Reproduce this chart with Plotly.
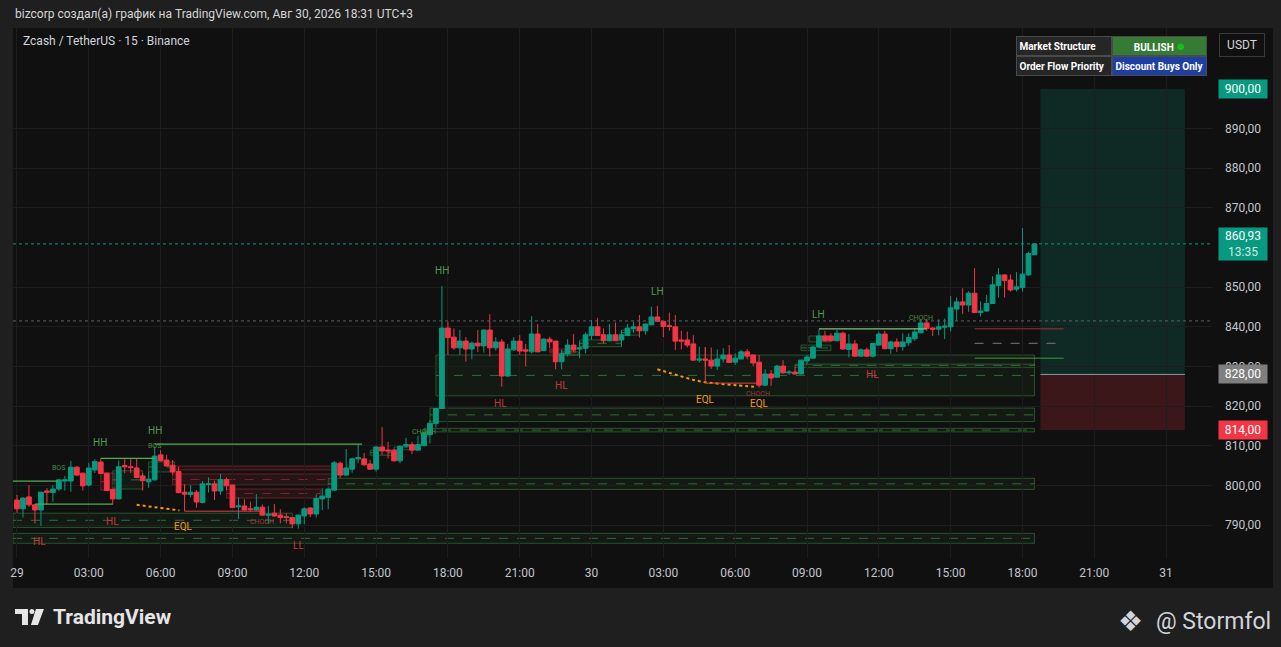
import pandas as pd
import plotly.graph_objects as go

# ---------------- data ----------------
times = pd.date_range("2026-08-29 00:00", periods=171, freq="15min")

opens = [796.3, 794.1, 797.1, 795.1, 793.8, 798.6, 798.2, 799.1, 801.1, 801.1,
         804.6, 803.1, 800.1, 803.9, 805.9, 803.1, 799.0, 796.6, 805.0, 804.7,
         804.4, 802.4, 800.9, 801.4, 807.7, 806.4, 805.1, 803.5, 798.3, 797.7,
         798.3, 795.7, 800.2, 800.4, 798.6, 801.5, 800.1, 794.6, 794.8, 794.1,
         793.8, 794.5, 792.5, 793.0, 792.5, 792.1, 791.9, 790.3, 792.3, 794.3,
         792.8, 796.6, 797.0, 798.8, 805.6, 802.6, 804.1, 806.7, 806.7, 805.4,
         804.1, 809.7, 808.9, 808.9, 806.2, 809.9, 810.3, 808.9, 810.0, 812.8,
         815.6, 819.4, 839.7, 837.4, 834.7, 836.4, 834.4, 835.9, 835.2, 839.2,
         834.7, 836.2, 827.6, 834.2, 836.4, 834.2, 833.7, 838.2, 834.0, 836.9,
         836.4, 831.2, 833.2, 835.4, 834.4, 834.6, 837.8, 840.0, 838.0, 836.5,
         838.0, 836.7, 837.8, 839.6, 840.0, 839.0, 840.5, 842.5, 841.4, 840.3,
         840.0, 836.7, 836.7, 835.7, 831.6, 831.9, 831.6, 830.1, 831.9, 832.9,
         831.1, 831.9, 833.7, 832.9, 831.1, 825.3, 828.1, 827.3, 830.1, 828.4,
         828.6, 828.1, 831.4, 832.1, 834.9, 837.7, 837.7, 836.5, 838.4, 834.3,
         835.7, 832.6, 834.2, 832.6, 835.4, 838.2, 834.5, 836.2, 835.0, 836.0,
         837.0, 838.5, 841.0, 839.7, 839.4, 839.9, 840.0, 844.5, 846.3, 845.5,
         848.5, 843.6, 844.0, 845.9, 850.4, 853.1, 851.8, 849.5, 849.9, 853.1,
         858.2]
highs = [797.6, 797.0, 800.1, 795.3, 798.4, 799.3, 800.1, 801.5, 802.4, 806.2,
         804.9, 803.2, 805.7, 806.6, 806.8, 803.2, 799.1, 806.2, 806.6, 806.6,
         806.7, 803.1, 803.5, 809.8, 808.9, 807.7, 806.4, 804.7, 800.1, 800.1,
         798.8, 801.1, 802.0, 801.2, 802.9, 802.0, 800.2, 797.0, 796.5, 795.9,
         797.8, 795.2, 794.8, 795.3, 794.0, 793.0, 792.0, 792.7, 794.5, 794.5,
         797.8, 799.3, 799.2, 806.2, 806.0, 809.2, 807.0, 810.4, 808.2, 806.4,
         809.9, 814.7, 811.0, 809.2, 810.0, 812.0, 811.0, 812.5, 813.6, 816.5,
         819.5, 850.3, 841.3, 839.6, 839.2, 837.4, 836.3, 839.2, 839.4, 843.2,
         837.4, 836.9, 835.7, 837.4, 837.9, 835.7, 842.7, 840.7, 837.1, 837.5,
         836.5, 834.2, 836.9, 838.2, 836.3, 838.6, 841.7, 842.3, 839.6, 840.7,
         841.1, 839.2, 840.7, 841.3, 843.0, 840.9, 845.1, 845.3, 841.5, 843.6,
         843.0, 839.0, 838.8, 837.9, 835.0, 834.8, 834.8, 834.3, 834.6, 835.4,
         833.3, 834.2, 834.4, 833.0, 832.9, 829.3, 829.1, 830.4, 831.6, 829.1,
         830.1, 831.7, 832.9, 835.2, 839.4, 839.0, 838.4, 839.2, 838.8, 838.2,
         836.7, 834.6, 834.8, 836.0, 838.8, 839.0, 836.5, 837.1, 838.4, 838.4,
         839.6, 841.9, 841.9, 839.9, 841.9, 842.1, 847.8, 847.4, 849.7, 849.0,
         854.8, 846.4, 848.0, 852.8, 854.8, 853.2, 853.2, 853.8, 864.9, 858.9,
         861.1]
lows = [793.1, 791.9, 794.6, 790.4, 789.8, 795.3, 795.9, 798.6, 798.7, 798.4,
        802.5, 798.7, 799.7, 803.1, 802.9, 798.6, 795.2, 796.5, 803.1, 803.1,
        801.8, 798.7, 799.4, 801.3, 806.0, 804.8, 802.6, 798.0, 797.2, 797.0,
        794.4, 795.5, 798.2, 796.3, 797.6, 798.8, 794.3, 791.5, 793.6, 793.4,
        793.7, 792.4, 790.4, 792.1, 790.4, 790.4, 789.2, 789.1, 790.2, 792.0,
        791.9, 793.8, 794.0, 798.7, 801.8, 802.5, 803.2, 805.6, 805.0, 803.9,
        803.5, 807.7, 806.8, 806.0, 805.6, 809.5, 807.9, 808.8, 809.9, 810.6,
        814.6, 819.3, 832.9, 834.2, 832.9, 831.2, 831.8, 833.7, 833.5, 832.5,
        834.0, 824.9, 827.3, 833.9, 832.9, 830.0, 833.3, 833.6, 833.9, 834.6,
        829.3, 829.3, 832.5, 833.7, 832.1, 833.3, 836.7, 837.7, 835.8, 836.3,
        836.4, 835.0, 837.7, 838.5, 837.3, 838.0, 840.4, 841.2, 837.4, 839.0,
        834.2, 834.3, 834.8, 831.5, 831.0, 830.0, 829.4, 829.1, 831.0, 830.9,
        830.4, 831.8, 831.8, 830.1, 824.7, 825.2, 825.1, 827.2, 828.2, 827.9,
        828.0, 828.0, 830.4, 832.0, 834.7, 836.3, 836.3, 836.3, 834.3, 832.3,
        832.5, 832.5, 832.5, 832.3, 835.2, 834.3, 833.2, 833.7, 834.0, 835.2,
        836.5, 838.4, 839.0, 837.7, 837.9, 836.9, 838.8, 841.6, 843.2, 843.8,
        843.5, 842.6, 843.8, 845.8, 847.4, 847.4, 848.9, 848.9, 848.9, 852.9,
        858.1]
closes = [794.1, 796.8, 795.1, 793.8, 798.3, 798.3, 799.1, 801.4, 801.4, 804.6,
          802.6, 799.9, 804.4, 806.0, 803.0, 798.7, 796.6, 804.7, 804.7, 804.5,
          802.0, 801.2, 801.6, 807.4, 806.2, 804.9, 803.4, 798.2, 797.8, 798.3,
          795.8, 800.4, 800.4, 798.6, 801.5, 799.9, 794.4, 794.8, 793.8, 793.9,
          794.5, 792.5, 792.7, 792.3, 791.9, 791.9, 790.3, 792.5, 794.1, 792.8,
          796.7, 797.3, 799.1, 805.7, 802.6, 804.4, 806.7, 807.0, 805.2, 804.1,
          809.7, 808.7, 808.7, 806.2, 809.9, 810.3, 808.9, 810.3, 813.3, 815.7,
          819.4, 839.7, 837.3, 834.7, 836.4, 834.4, 835.9, 835.2, 839.2, 834.7,
          836.2, 827.6, 834.4, 836.4, 833.9, 833.9, 838.2, 833.7, 836.9, 836.2,
          831.2, 833.2, 835.4, 834.2, 834.7, 838.0, 840.0, 837.8, 836.5, 838.0,
          836.5, 838.0, 839.7, 840.0, 839.0, 840.7, 842.5, 841.4, 840.1, 840.1,
          836.4, 836.4, 835.4, 831.6, 831.9, 831.6, 830.1, 831.9, 832.9, 831.0,
          832.1, 833.7, 832.6, 830.9, 825.3, 828.1, 827.1, 830.1, 828.4, 828.6,
          828.1, 831.6, 832.4, 834.9, 837.7, 836.5, 836.5, 838.4, 834.4, 835.7,
          832.6, 834.2, 832.6, 835.8, 838.2, 834.5, 836.2, 835.0, 836.2, 837.3,
          838.7, 841.0, 839.6, 839.4, 840.0, 840.2, 844.8, 846.3, 845.5, 848.5,
          843.6, 844.0, 845.9, 850.6, 853.1, 851.7, 849.3, 850.1, 853.3, 858.5,
          860.93]

# 860 is covered by the last-price badge, so it is not listed
price_ticks = [790, 800, 810, 820, 830, 840, 850, 870, 880, 890]
time_ticks = pd.date_range("2026-08-29 00:00", "2026-08-31 00:00", freq="3h")
time_tick_labels = ["29", "03:00", "06:00", "09:00", "12:00", "15:00", "18:00", "21:00",
                    "30", "03:00", "06:00", "09:00", "12:00", "15:00", "18:00", "21:00", "31"]

# bullish order blocks: start, end, low, high, dashed mid
bull_zones = [
    ("2026-08-28 23:50", "2026-08-29 11:30", 789.4, 793.0, True),
    ("2026-08-28 23:50", "2026-08-30 18:30", 785.4, 787.9, True),
    ("2026-08-29 13:00", "2026-08-30 18:30", 799.0, 801.8, True),
    ("2026-08-29 17:30", "2026-08-30 18:30", 822.6, 832.9, True),
    ("2026-08-29 17:15", "2026-08-30 18:30", 816.1, 819.5, True),
    ("2026-08-29 17:00", "2026-08-30 18:30", 813.5, 814.4, True),
    ("2026-08-30 08:30", "2026-08-30 18:30", 829.8, 830.6, True),
    ("2026-08-29 04:00", "2026-08-29 05:15", 799.1, 803.7, True),
    ("2026-08-29 05:30", "2026-08-29 06:35", 803.4, 805.9, True),
    ("2026-08-29 14:45", "2026-08-29 15:40", 807.6, 808.9, True),
    ("2026-08-29 15:45", "2026-08-29 16:30", 809.0, 809.7, False),
    ("2026-08-29 22:45", "2026-08-29 23:27", 832.9, 833.7, True),
    ("2026-08-29 23:30", "2026-08-30 01:15", 835.0, 836.7, True),
    ("2026-08-30 01:15", "2026-08-30 02:00", 837.9, 839.2, True),
    ("2026-08-30 08:45", "2026-08-30 10:00", 834.0, 835.4, True),
    ("2026-08-30 09:05", "2026-08-30 10:00", 836.2, 837.7, False),
]
# bearish order blocks
bear_zones = [
    ("2026-08-29 06:30", "2026-08-29 13:10", 803.9, 804.9, False),
    ("2026-08-29 06:30", "2026-08-29 13:10", 800.1, 802.9, True),
    ("2026-08-29 08:45", "2026-08-29 12:40", 796.8, 799.1, True),
    ("2026-08-29 03:30", "2026-08-29 04:05", 798.8, 803.1, True),
    ("2026-08-29 22:15", "2026-08-29 23:20", 833.4, 834.4, True),
]
# structure lines: start, end, price
bull_lines = [
    ("2026-08-28 23:50", "2026-08-29 01:43", 801.1),
    ("2026-08-29 00:45", "2026-08-29 04:00", 795.3),
    ("2026-08-29 03:30", "2026-08-29 05:45", 806.8),
    ("2026-08-29 05:45", "2026-08-29 14:25", 810.4),
]
lh_line = ("2026-08-30 09:30", "2026-08-30 14:00", 839.5)
# CHoCH brackets: time, top price, bottom price, end time
choch_brackets = [
    ("2026-08-29 07:00", 800.3, 793.5, "2026-08-29 10:10"),
    ("2026-08-30 04:45", 834.9, 825.8, "2026-08-30 06:55"),
]
# equal-lows dotted lines
eql1_t = ["2026-08-29 05:00", "2026-08-29 06:47"]
eql1_p = [795.1, 793.7]
eql2_t = ["2026-08-30 02:45", "2026-08-30 03:45", "2026-08-30 04:30", "2026-08-30 05:15",
          "2026-08-30 06:02", "2026-08-30 06:47"]
eql2_p = [829.3, 827.5, 826.3, 825.7, 825.3, 824.9]
# premium / equilibrium / discount
pd_start, pd_end = "2026-08-30 16:00", "2026-08-30 19:43"
premium, equilibrium, discount = 839.5, 835.85, 832.1
prev_high = 841.5

# labels
label_text = ["HH", "HH", "HH", "LH", "LH", "HL", "HL", "HL", "HL", "HL", "LL",
              "BOS", "BOS", "CHOCH", "CHOCH", "CHOCH", "CHOCH", "EQL", "EQL", "EQL"]
label_time = ["2026-08-29 03:28", "2026-08-29 05:45", "2026-08-29 17:45", "2026-08-30 02:45",
              "2026-08-30 09:30", "2026-08-29 00:57", "2026-08-29 04:00", "2026-08-29 20:13",
              "2026-08-29 22:45", "2026-08-30 11:45", "2026-08-29 11:45", "2026-08-29 01:43",
              "2026-08-29 05:45", "2026-08-29 17:00", "2026-08-30 13:45", "2026-08-29 10:15",
              "2026-08-30 06:58", "2026-08-29 06:58", "2026-08-30 04:45", "2026-08-30 07:00"]
label_price = [810.95, 813.98, 854.34, 849.04, 843.24, 785.97, 791.02, 820.79, 825.33, 828.10,
               784.97, 804.39, 809.94, 813.47, 842.23, 790.77, 823.06, 789.76, 821.80, 820.79]
label_kind = ["up", "up", "up", "up", "up", "dn", "dn", "dn", "dn", "dn", "dn",
              "bos", "bos", "bos", "bos", "chd", "chd", "eql", "eql", "eql"]

# long position
pos_start, pos_end = "2026-08-30 18:45", "2026-08-31 00:47"
target, entry, stop = 900.0, 828.0, 814.0

# ---------------- figure ----------------
W, H = 1281, 647
ML, MR, MT, MB = 10, 69, 28, 89
PW, PH = W - ML - MR, H - MT - MB


def px(x):
    return (x - ML) / PW


def py(y):
    return (H - MB - y) / PH


UP, DN = "#089981", "#f23645"
BG = "#101010"
FRAME = "#1f1f1f"
FONT = "Roboto"

fig = go.Figure()
fig.add_trace(go.Candlestick(
    x=times, open=opens, high=highs, low=lows, close=closes,
    increasing=dict(line=dict(color=UP, width=1), fillcolor=UP),
    decreasing=dict(line=dict(color=DN, width=1), fillcolor=DN),
    hoverinfo="skip", showlegend=False,
))

shapes = []
# backgrounds
shapes.append(dict(type="rect", xref="paper", yref="paper", x0=px(10), x1=px(1273),
                   y0=py(588), y1=py(28), fillcolor=BG, line=dict(width=0), layer="below"))

for t0, t1, lo, hi, mid in bull_zones:
    shapes.append(dict(type="rect", xref="x", yref="y", x0=t0, x1=t1, y0=lo, y1=hi,
                       fillcolor="rgba(76,175,80,0.07)",
                       line=dict(color="rgba(76,175,80,0.40)", width=1), layer="below"))
    if mid:
        shapes.append(dict(type="line", xref="x", yref="y", x0=t0, x1=t1,
                           y0=(lo + hi) / 2, y1=(lo + hi) / 2,
                           line=dict(color="rgba(76,175,80,0.55)", width=1, dash="dash"),
                           layer="below"))
for t0, t1, lo, hi, mid in bear_zones:
    shapes.append(dict(type="rect", xref="x", yref="y", x0=t0, x1=t1, y0=lo, y1=hi,
                       fillcolor="rgba(242,54,69,0.10)",
                       line=dict(color="rgba(200,50,60,0.45)", width=1), layer="below"))
    if mid:
        shapes.append(dict(type="line", xref="x", yref="y", x0=t0, x1=t1,
                           y0=(lo + hi) / 2, y1=(lo + hi) / 2,
                           line=dict(color="rgba(200,50,60,0.55)", width=1, dash="dash"),
                           layer="below"))
for t0, t1, p in bull_lines:
    shapes.append(dict(type="line", xref="x", yref="y", x0=t0, x1=t1, y0=p, y1=p,
                       line=dict(color="#4caf50", width=1.2)))
shapes.append(dict(type="line", xref="x", yref="y", x0=lh_line[0], x1=lh_line[1],
                   y0=lh_line[2], y1=lh_line[2], line=dict(color="#7cc47c", width=1.2)))
for t, top, bot, t1 in choch_brackets:
    shapes.append(dict(type="line", xref="x", yref="y", x0=t, x1=t, y0=top, y1=bot,
                       line=dict(color="#e0404a", width=1)))
    shapes.append(dict(type="line", xref="x", yref="y", x0=t, x1=t1, y0=bot, y1=bot,
                       line=dict(color="#e0404a", width=1)))
# premium / equilibrium / discount
shapes.append(dict(type="line", xref="x", yref="y", x0=pd_start, x1=pd_end, y0=premium, y1=premium,
                   line=dict(color="#a03038", width=1)))
shapes.append(dict(type="line", xref="x", yref="y", x0=pd_start, x1=pd_end, y0=equilibrium,
                   y1=equilibrium, line=dict(color="#7a7a7a", width=1, dash="dash")))
shapes.append(dict(type="line", xref="x", yref="y", x0=pd_start, x1=pd_end, y0=discount, y1=discount,
                   line=dict(color="#3f9a3f", width=1)))
# long position
shapes.append(dict(type="rect", xref="x", yref="y", x0=pos_start, x1=pos_end, y0=entry, y1=target,
                   fillcolor="rgba(8,153,129,0.19)", line=dict(width=0), layer="below"))
shapes.append(dict(type="rect", xref="x", yref="y", x0=pos_start, x1=pos_end, y0=stop, y1=entry,
                   fillcolor="rgba(242,54,69,0.19)", line=dict(width=0), layer="below"))
shapes.append(dict(type="line", xref="x", yref="y", x0=pos_start, x1=pos_end, y0=entry, y1=entry,
                   line=dict(color="#9598a1", width=1)))
# level lines across the chart
shapes.append(dict(type="line", xref="paper", yref="y", x0=0, x1=1, y0=closes[-1], y1=closes[-1],
                   line=dict(color=UP, width=1, dash="dot")))
shapes.append(dict(type="line", xref="paper", yref="y", x0=0, x1=1, y0=prev_high, y1=prev_high,
                   line=dict(color="#5d606b", width=1, dash="dot")))

# TradingView logo (footer)
LOGO = "#e6e6e6"
shapes.append(dict(type="rect", xref="paper", yref="paper", x0=px(12), x1=px(25), y0=py(614), y1=py(609),
                   fillcolor=LOGO, line=dict(width=0)))
shapes.append(dict(type="rect", xref="paper", yref="paper", x0=px(19), x1=px(25), y0=py(625), y1=py(609),
                   fillcolor=LOGO, line=dict(width=0)))
shapes.append(dict(type="circle", xref="paper", yref="paper", x0=px(26.5), x1=px(31.5), y0=py(614),
                   y1=py(609), fillcolor=LOGO, line=dict(width=0)))
shapes.append(dict(type="path", xref="paper", yref="paper",
                   path=f"M {px(33)} {py(609)} L {px(41)} {py(609)} L {px(35)} {py(625)} L {px(28)} {py(625)} Z",
                   fillcolor=LOGO, line=dict(width=0)))

# equal-lows dotted lines
for tt, pp in ((eql1_t, eql1_p), (eql2_t, eql2_p)):
    fig.add_trace(go.Scatter(x=tt, y=pp, mode="lines", line=dict(color="#ff9800", width=2, dash="dot",
                                                                   shape="spline"),
                             hoverinfo="skip", showlegend=False))

annotations = []
styles = {
    "up": dict(color="#4e9c4e", size=10),
    "dn": dict(color="#c7373f", size=10),
    "bos": dict(color="#4d8a40", size=7),
    "chd": dict(color="#9a3a3e", size=7),
    "eql": dict(color="#f59a12", size=10),
}
for txt, t, p, k in zip(label_text, label_time, label_price, label_kind):
    annotations.append(dict(x=t, y=p, xref="x", yref="y", text=txt, showarrow=False,
                            font=dict(family=FONT, **styles[k])))

# price badges
def badge(y, text, bg, h=16):
    return dict(x=1, xref="paper", xanchor="left", xshift=6, y=y, yref="y", yanchor="middle",
                text=text, showarrow=False, bgcolor=bg, width=46, height=h, borderpad=1,
                font=dict(family=FONT, size=12, color="#ffffff"), align="center")


annotations.append(badge(target, "900,00", UP))
annotations.append(badge(closes[-1], "860,93<br><span style='color:#cfe9e3'>13:35</span>", UP, h=30))
annotations.append(badge(entry, "828,00", "#7f7f7f"))
annotations.append(badge(stop, "814,00", DN))


def ptext(x, y, text, size, color, anchor="center", family=FONT, **kw):
    return dict(x=px(x), y=py(y), xref="paper", yref="paper", xanchor=anchor, yanchor="middle",
                text=text, showarrow=False, font=dict(family=family, size=size, color=color), **kw)


# header texts
annotations.append(ptext(10, 14, "bizcorp создал(а) график на TradingView.com, Авг 30, 2026 18:31 UTC+3",
                         12, "#d6d6d6", anchor="left"))
annotations.append(ptext(18, 41, "Zcash / TetherUS · 15 · Binance", 12, "#d1d4dc", anchor="left"))
# USDT button
annotations.append(ptext(1242, 45, "USDT", 12, "#d1d4dc", width=42, height=20, bgcolor=BG,
                         bordercolor="#3a3a3a", borderwidth=1))


# table
def cell(x0, x1, y0, y1, text, bg, align="left"):
    return ptext((x0 + x1) / 2, (y0 + y1) / 2, text, 10, "#ffffff", width=x1 - x0 - 2,
                 height=y1 - y0 - 2, bgcolor=bg, bordercolor="#4a4a4a", borderwidth=1,
                 borderpad=0, align=align)


annotations.append(cell(1016, 1112, 36, 56, " <b>Market Structure</b>", "#262626"))
annotations.append(cell(1016, 1112, 56, 76, " <b>Order Flow Priority</b>", "#262626"))
annotations.append(cell(1112, 1207, 36, 56,
                        "<b>BULLISH</b> <span style='color:#16c216;font-size:15px'>●</span>",
                        "#357a35", align="center"))
annotations.append(cell(1112, 1207, 56, 76, "<b>Discount Buys Only</b>", "#1f3fa3", align="center"))

# footer
annotations.append(ptext(48, 617, "<b>TradingView</b>", 21, "#e6e6e6", anchor="left"))
annotations.append(ptext(1273, 621, "@ Stormfol", 23, "#d1d4dc", anchor="right"))
annotations.append(ptext(1130, 621, "❖", 28, "#d1d4dc", family="DejaVu Sans"))

fig.update_layout(
    width=W, height=H,
    margin=dict(l=ML, r=MR, t=MT, b=MB),
    paper_bgcolor=FRAME, plot_bgcolor=BG,
    font=dict(family=FONT, color="#c3c6ce", size=12),
    shapes=shapes, annotations=annotations,
    showlegend=False, boxgap=0.12, boxgroupgap=0.1,
    xaxis=dict(type="date", range=["2026-08-28 23:50", "2026-08-31 01:55"],
               tickvals=list(time_ticks), ticktext=time_tick_labels,
               showgrid=True, gridcolor="#1d1d1d", gridwidth=1,
               zeroline=False, showline=False, ticks="", ticklabelstandoff=6,
               rangeslider=dict(visible=False),
               tickfont=dict(family=FONT, size=12, color="#c3c6ce")),
    yaxis=dict(side="right", range=[781.69, 915.39],
               tickvals=price_ticks, ticktext=[f"{v},00" for v in price_ticks],
               showgrid=True, gridcolor="#1d1d1d", gridwidth=1, zeroline=False,
               showline=False, ticks="", ticklabelstandoff=12,
               tickfont=dict(family=FONT, size=12, color="#c3c6ce")),
)

fig.write_html("out.html", config={"displayModeBar": False},
               post_script="document.body.style.margin='0';document.body.style.overflow='hidden';")
